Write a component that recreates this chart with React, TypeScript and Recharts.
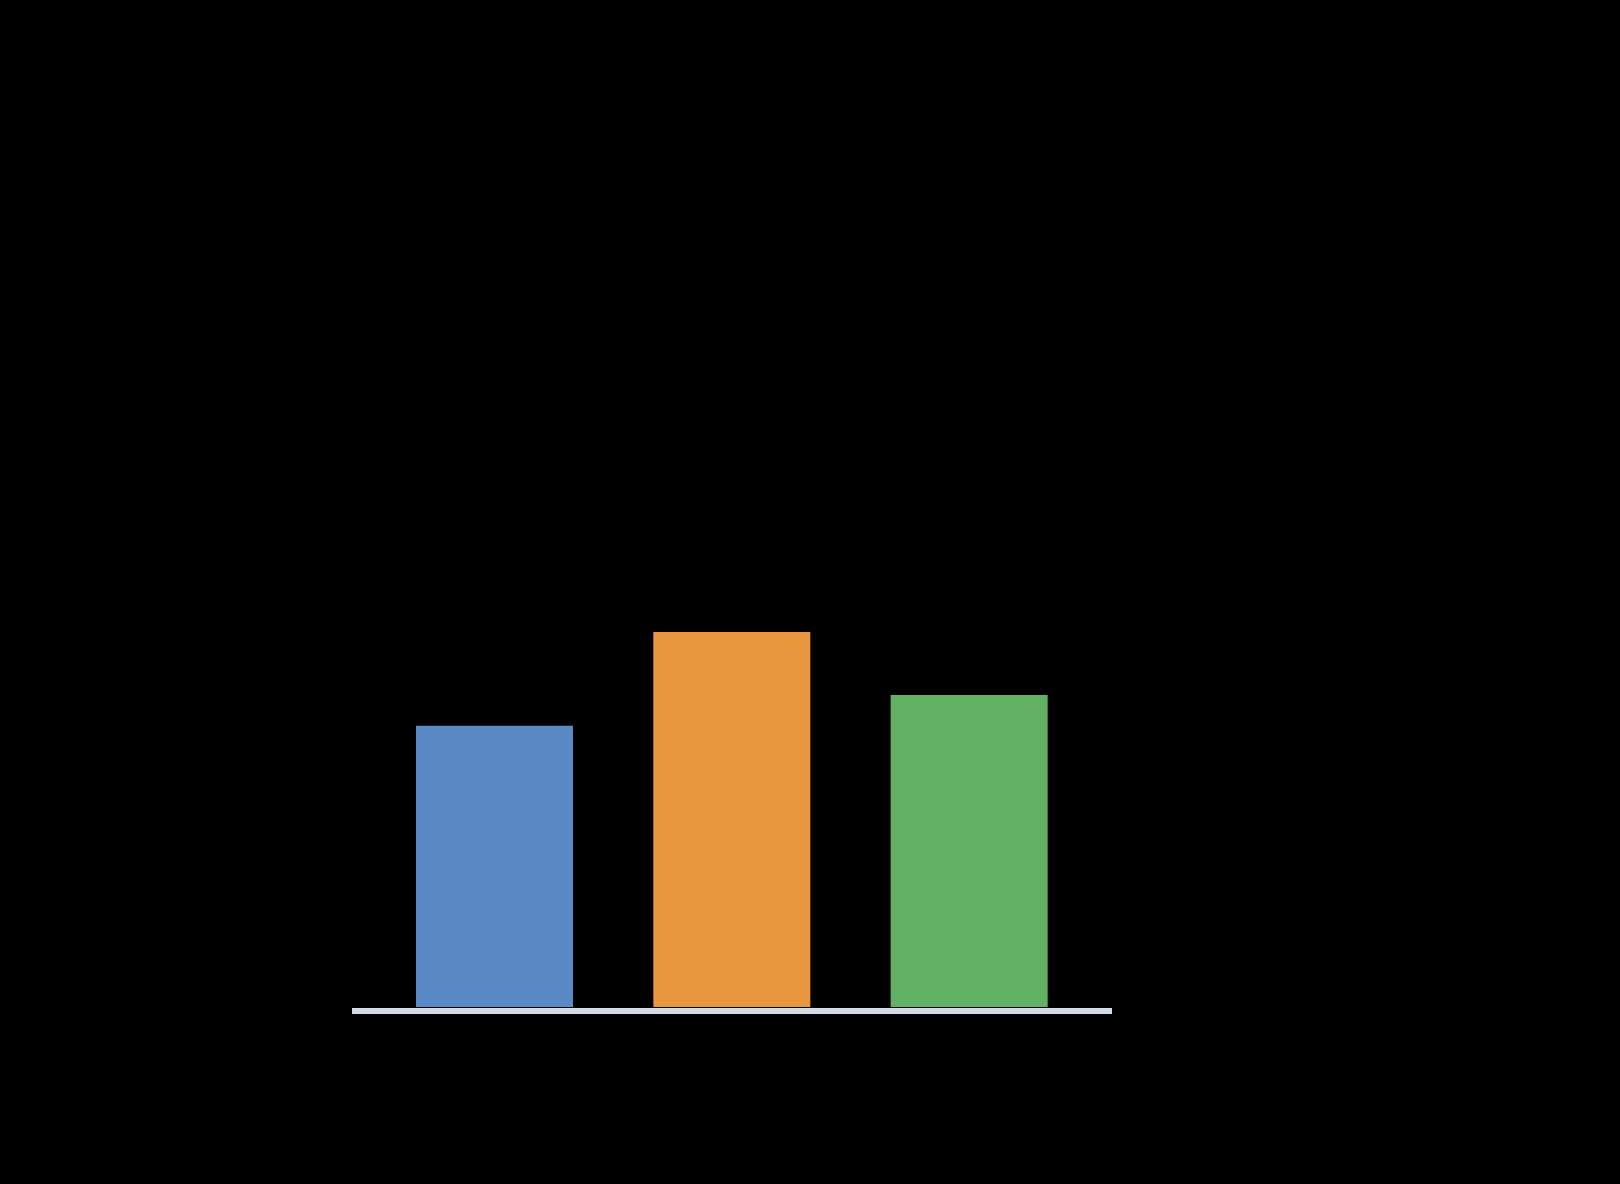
import React from 'react';
import { BarChart, Bar, XAxis, YAxis, Cell } from 'recharts';

// three unlabelled categories, values read relative to the tallest bar
const categories = ['A', 'B', 'C'];
const values = [75, 100, 83.2];
const colors = ['#5a8ac6', '#e8973f', '#62b163'];

const data = categories.map((name, i) => ({ name, value: values[i] }));

export default function App() {
  return (
    <div style={{ position: 'fixed', top: 0, left: 0, width: 1620, height: 1184, background: '#000' }}>
      <BarChart
        width={1620}
        height={1184}
        data={data}
        margin={{ top: 632, right: 508, left: 352, bottom: 163 }}
      >
        <XAxis
          dataKey="name"
          height={10}
          tick={false}
          tickLine={false}
          padding={{ left: 24, right: 24 }}
          axisLine={{ stroke: '#d3dbe5', strokeWidth: 6 }}
        />
        <YAxis hide domain={[-1.07, 100]} />
        <Bar dataKey="value" barSize={157} isAnimationActive={false}>
          {data.map((entry, index) => (
            <Cell key={`cell-${index}`} fill={colors[index]} />
          ))}
        </Bar>
      </BarChart>
    </div>
  );
}
